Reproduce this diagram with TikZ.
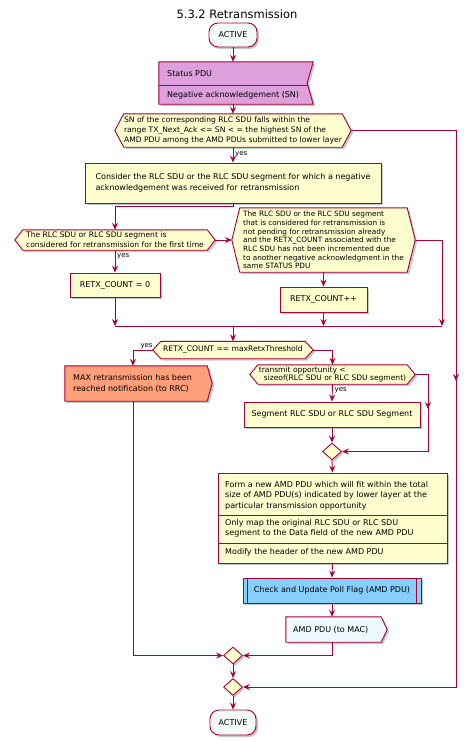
\documentclass[tikz,border=0pt]{standalone}
\usepackage{fontspec}
\setmainfont{DejaVu Sans}
\usetikzlibrary{arrows.meta,shapes.geometric,shadows,backgrounds,calc}
\definecolor{rc}{HTML}{A80036}
\definecolor{yel}{HTML}{FEFECE}
\definecolor{plumc}{HTML}{DDA0DD}
\definecolor{salm}{HTML}{FFA07A}
\definecolor{skyb}{HTML}{87CEFA}
\definecolor{amdc}{HTML}{EEF8FF}
\definecolor{actc}{HTML}{F2FBF5}
\newcommand\bfnt{\fontsize{8}{10.5}\selectfont}
\newcommand\hfnt{\fontsize{7.6}{9.8}\selectfont}
\newcommand\hfntt{\fontsize{7.3}{8.7}\selectfont}
\newcommand\hfnts{\fontsize{7.55}{8.7}\selectfont}
\newcommand\drawhex[2]{\path[hexst] (#1.west) -- ([xshift=#2]#1.north west) -- ([xshift=-#2]#1.north east) -- (#1.east) -- ([xshift=-#2]#1.south east) -- ([xshift=#2]#1.south west) -- cycle;}
\begin{document}
\begin{tikzpicture}[x=1pt,y=-1pt,
  shad/.style={drop shadow={shadow xshift=2pt,shadow yshift=-2pt,opacity=0.22,fill=black}},
  line/.style={draw=rc,line width=0.9pt},
  flow/.style={line,-{Stealth[length=7pt,width=6pt,inset=2.5pt]}},
  box/.style={draw=rc,line width=0.9pt,fill=yel,shad,inner sep=0,align=left,font=\bfnt},
  frame/.style={inner sep=0},
  txt/.style={inner sep=0,align=left,font=\bfnt},
  hx/.style={inner sep=0,align=left,font=\hfnt},
  hexst/.style={draw=rc,line width=0.9pt,fill=yel,shad},
  shp/.style={draw=rc,line width=0.9pt,shad},
  act/.style={draw=rc,line width=0.9pt,fill=actc,shad,rounded corners=9pt,inner sep=0,font=\bfnt},
  dia/.style={diamond,draw=rc,line width=0.9pt,fill=yel,shad,inner sep=0,minimum width=19pt,minimum height=17pt},
  yes/.style={inner sep=0,font=\fontsize{7}{8}\selectfont}]
\useasboundingbox (0,0) rectangle (474,742);

\node[font=\fontsize{11.5}{13}\selectfont] (title) at (237,14) {5.3.2 Retransmission};

% start
\node[act,minimum width=48pt,minimum height=24pt] (act1) at (233,35) {ACTIVE};

% Status PDU (receive shape)
\node[frame,minimum width=154pt,minimum height=42pt] (spdu) at (236,83) {};
\path[shp,fill=plumc] (spdu.north west) -- (spdu.north east) -- ([xshift=-6pt]spdu.east) -- (spdu.south east) -- (spdu.south west) -- cycle;
\draw[line] (spdu.west |- 0,85) -- (307.6,85);
\node[txt,anchor=west] (spdu1) at (167,74) {Status PDU};
\node[txt,anchor=west] (spdu2) at (167,95) {Negative acknowledgement (SN)};

% hex 1
\node[hx,minimum width=236pt,minimum height=33pt] (h1) at (233,130.5) {SN of the corresponding RLC SDU falls within the\\range TX\_Next\_Ack <= SN < = the highest SN of the\\AMD PDU among the AMD PDUs submitted to lower layer};
\begin{scope}[on background layer]\drawhex{h1}{9pt}\end{scope}

\node[box,minimum width=296pt,minimum height=40pt] (cons) at (233,183) {Consider the RLC SDU or the RLC SDU segment for which a negative\\acknowledgement was received for retransmission};

% hex 2 and 3
\node[hx,minimum width=200pt,minimum height=20pt] (h2) at (115,240) {The RLC SDU or RLC SDU segment is\\considered for retransmission for the first time};
\node[hx,font=\hfntt,minimum width=183pt,minimum height=64pt] (h3) at (323.5,240) {The RLC SDU or the RLC SDU segment\\that is considered for retransmission is\\not pending for retransmission already\\and the RETX\_COUNT associated with the\\RLC SDU has not been incremented due\\to another negative acknowledgment in the\\same STATUS PDU};
\begin{scope}[on background layer]\drawhex{h2}{8pt}\drawhex{h3}{8pt}\end{scope}

\node[box,minimum width=90pt,minimum height=24pt] (box0) at (115,285) {RETX\_COUNT = 0};
\node[box,minimum width=87pt,minimum height=25pt] (boxpp) at (323.5,299.5) {RETX\_COUNT++};

\coordinate (mL) at (115,326);
\coordinate (mR) at (442,326);
\coordinate (mrg) at (233,326);

% hex 4 and 5
\node[hx,minimum width=160pt,minimum height=17pt] (h4) at (233,350) {RETX\_COUNT == maxRetxThreshold};
\node[hx,font=\hfnts,minimum width=165pt,minimum height=19pt] (h5) at (332.5,374.5) {transmit opportunity <\\\hspace*{5pt}sizeof(RLC SDU or RLC SDU segment)};
\begin{scope}[on background layer]\drawhex{h4}{8pt}\drawhex{h5}{8pt}\end{scope}

% MAX (send shape)
\node[frame,minimum width=147pt,minimum height=35pt] (max) at (138.5,383.5) {};
\path[shp,fill=salm] (max.north west) -- ([xshift=-5pt]max.north east) -- (max.east) -- ([xshift=-5pt]max.south east) -- (max.south west) -- cycle;
\node[txt,anchor=west] (maxt) at (73,383.5) {MAX retransmission has been\\reached notification (to RRC)};

\node[box,minimum width=176pt,minimum height=25pt] (seg) at (332,414.5) {Segment RLC SDU or RLC SDU Segment};
\node[dia] (d1) at (332,451.5) {};

% form box
\node[box,minimum width=229pt,minimum height=90pt] (form) at (332.5,518) {};
\draw[line] (form.west |- 0,515) -- (form.east |- 0,515);
\draw[line] (form.west |- 0,543) -- (form.east |- 0,543);
\node[txt,anchor=west] (f1) at (225,495.5) {Form a new AMD PDU which will fit within the total\\size of AMD PDU(s) indicated by lower layer at the\\particular transmission opportunity};
\node[txt,anchor=west] (f2) at (225,528.5) {Only map the original RLC SDU or RLC SDU\\segment to the Data field of the new AMD PDU};
\node[txt,anchor=west] (f3) at (225,552.5) {Modify the header of the new AMD PDU};

% subprocess
\node[box,fill=skyb,minimum width=178pt,minimum height=25pt] (blue) at (332,590.5) {Check and Update Poll Flag (AMD PDU)};
\draw[line] ([xshift=5pt]blue.north west) -- ([xshift=5pt]blue.south west);
\draw[line] ([xshift=-5pt]blue.north east) -- ([xshift=-5pt]blue.south east);

% AMD PDU (send)
\node[frame,minimum width=101pt,minimum height=25pt] (amd) at (336.5,629.5) {};
\path[shp,fill=amdc] (amd.north west) -- ([xshift=-6pt]amd.north east) -- (amd.east) -- ([xshift=-6pt]amd.south east) -- (amd.south west) -- cycle;
\node[txt,anchor=west] (amdt) at (293,629.5) {AMD PDU (to MAC)};

\node[dia] (d2) at (233,655.5) {};
\node[dia] (d3) at (233,687) {};
\node[act,minimum width=46pt,minimum height=25pt] (act2) at (233,722.5) {ACTIVE};

\coordinate (rA) at (456,381);
\coordinate (sA) at (428,409);
\coordinate (lB) at (133,655.5);
\coordinate (rB) at (332,655.5);

% connectors
\draw[flow] (act1.south) -- (act1.south |- spdu.north);
\draw[flow] (act1.south |- spdu.south) -- (h1.north);
\draw[flow] (h1.south) -- (cons.north);
\node[yes,anchor=west] (y1) at ([xshift=2pt,yshift=-7pt]h1.south) {yes};
\draw[line] (h1.east) -| (rA);
\draw[flow] (h1.east -| rA) -- (rA);
\draw[flow] (rA) |- (d3.east);
\draw[flow] (cons.south) -- ++(0,3) -| (h2.north);
\draw[flow] (h2.east) -- (h3.west);
\draw[flow] (h2.south) -- (box0.north);
\node[yes,anchor=west] (y2) at ([xshift=2pt,yshift=-6pt]h2.south) {yes};
\draw[flow] (h3.south) -- (boxpp.north);
\draw[line] (mL) -- (mR);
\draw[flow] (box0.south) -- (mL);
\draw[flow] (boxpp.south) -- (boxpp.south |- mrg);
\draw[flow] (h3.east) -| (mR);
\draw[flow] (mrg) -- (h4.north);
\draw[flow] (h4.west) -| ([xshift=-5.5pt]max.north);
\node[yes,anchor=south east] (y4) at ([xshift=0pt,yshift=1pt]h4.west) {yes};
\draw[flow] (h4.east) -| (h5.north);
\draw[flow] (h5.south) -- (seg.north);
\node[yes,anchor=west] (y5) at ([xshift=2pt,yshift=-6pt]h5.south) {yes};
\draw[line] (h5.east) -| (sA);
\draw[flow] (h5.east -| sA) -- (sA);
\draw[flow] (sA) |- (d1.east);
\draw[flow] (seg.south) -- (d1.north);
\draw[flow] (d1.south) -- (form.north);
\draw[flow] (form.south) -- (blue.north);
\draw[flow] (blue.south) -- (blue.south |- amd.north);
\draw[line] ([xshift=-5.5pt]max.south) -- (lB);
\draw[flow] (lB) -- (d2.west);
\draw[line] (blue.south |- amd.south) -- (rB);
\draw[flow] (rB) -- (d2.east);
\draw[flow] (d2.south) -- (d3.north);
\draw[flow] (d3.south) -- (act2.north);
\end{tikzpicture}
\end{document}
